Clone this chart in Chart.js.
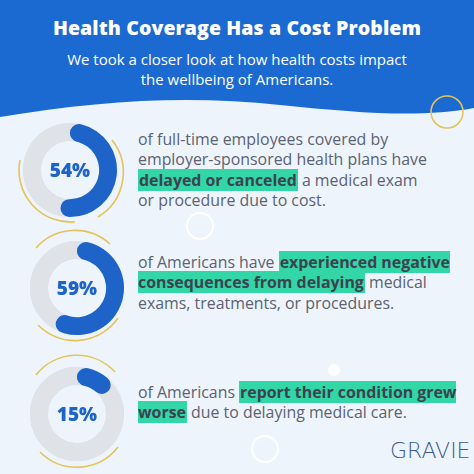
<!DOCTYPE html>
<html><head><meta charset="utf-8">
<script src="https://cdn.jsdelivr.net/npm/chart.js@4/dist/chart.umd.min.js"></script>
<style>
html,body{margin:0;padding:0;}
body{width:474px;height:474px;position:relative;overflow:hidden;background:#eef4fc;font-family:"Open Sans",sans-serif;}
#deco{position:absolute;left:0;top:0;}
.t{position:absolute;left:0;width:474px;text-align:center;color:#fff;}
.title{top:14px;font-size:19.5px;font-weight:800;letter-spacing:0.1px;}
.sub{top:49px;font-size:15px;line-height:20px;}
.p{position:absolute;left:138px;width:336px;font-size:15.9px;line-height:20.4px;color:#5b6270;white-space:nowrap;}
.h{background:#33d6a6;color:#3a4450;font-weight:700;padding:0 1px;}
.box{position:absolute;width:100px;height:100px;}
.ring{position:absolute;left:3px;top:3px;width:94px;height:94px;border-radius:50%;box-sizing:border-box;border:18px solid #dfe2e7;}
.box canvas{position:absolute;left:0;top:0;}
.pct{position:absolute;left:0;top:0;width:100px;height:100px;line-height:100px;text-align:center;font-weight:800;font-size:19px;color:#1d63c8;}
.logo{position:absolute;left:390px;top:438px;font-size:22px;color:#3a5a8c;letter-spacing:0px;font-family:"DejaVu Sans",sans-serif;font-weight:200;}
</style></head><body>
<svg id="deco" width="474" height="474">
<path d="M0 117 C 100 100, 190 95, 280 105 C 360 113, 420 118, 474 108 L474 0 L0 0 Z" fill="#1b6ad2"/>
<circle cx="447" cy="112" r="16" fill="none" stroke="#e3c35a" stroke-width="1.6"/>
<circle cx="200" cy="226" r="13" fill="none" stroke="#ffffff" stroke-width="2"/>
<circle cx="334" cy="370" r="6" fill="#ffffff"/>
<circle cx="265" cy="449" r="13" fill="none" stroke="#ffffff" stroke-width="2"/>
<path d="M112 140 A 52 52 0 0 1 98 217" fill="none" stroke="#e3c35a" stroke-width="1.6"/>
<path d="M20 160 A 52 52 0 0 0 75 222" fill="none" stroke="#e3c35a" stroke-width="1.6"/>
<path d="M36 248 A 52 52 0 0 1 110 244" fill="none" stroke="#e3c35a" stroke-width="1.6"/>
<path d="M38 325 A 52 52 0 0 0 118 318" fill="none" stroke="#e3c35a" stroke-width="1.6"/>
<path d="M36 375 A 52 52 0 0 1 115 372" fill="none" stroke="#e3c35a" stroke-width="1.6"/>
<path d="M40 452 A 52 52 0 0 0 118 447" fill="none" stroke="#e3c35a" stroke-width="1.6"/>
</svg>
<div class="t title">Health Coverage Has a Cost Problem</div>
<div class="t sub">We took a closer look at how health costs impact<br>the wellbeing of Americans.</div>

<div class="box" style="left:20px;top:120px"><div class="ring"></div><canvas id="c0" width="100" height="100"></canvas><div class="pct">54%</div></div>
<div class="box" style="left:27px;top:238px"><div class="ring"></div><canvas id="c1" width="100" height="100"></canvas><div class="pct">59%</div></div>
<div class="box" style="left:27px;top:364px"><div class="ring"></div><canvas id="c2" width="100" height="100"></canvas><div class="pct">15%</div></div>

<div class="p" style="top:129px">of full-time employees covered by<br>employer-sponsored health plans have<br><span class="h">delayed or canceled</span> a medical exam<br>or procedure due to cost.</div>
<div class="p" style="top:252px">of Americans have <span class="h">experienced negative<br>consequences from delaying</span> medical<br>exams, treatments, or procedures.</div>
<div class="p" style="top:382px">of Americans <span class="h">report their condition grew<br>worse</span> due to delaying medical care.</div>
<div class="logo">GRAVIE</div>

<script>
const stats = [54, 59, 15];
const labels = ["Affected", "Not affected"];
stats.forEach((v, i) => {
  new Chart(document.getElementById('c' + i), {
    type: 'doughnut',
    data: { labels: labels, datasets: [{ data: [v, 100 - v],
      backgroundColor: ['#1d63c8', '#dfe2e7'], borderWidth: 0,
      borderRadius: ctx => ctx.dataIndex === 0 ? 9 : 0 }] },
    options: { responsive: false, animation: false, cutout: '62%',
      layout: { padding: 3 },
      plugins: { legend: { display: false }, tooltip: { enabled: false } } }
  });
});
</script>
</body></html>
